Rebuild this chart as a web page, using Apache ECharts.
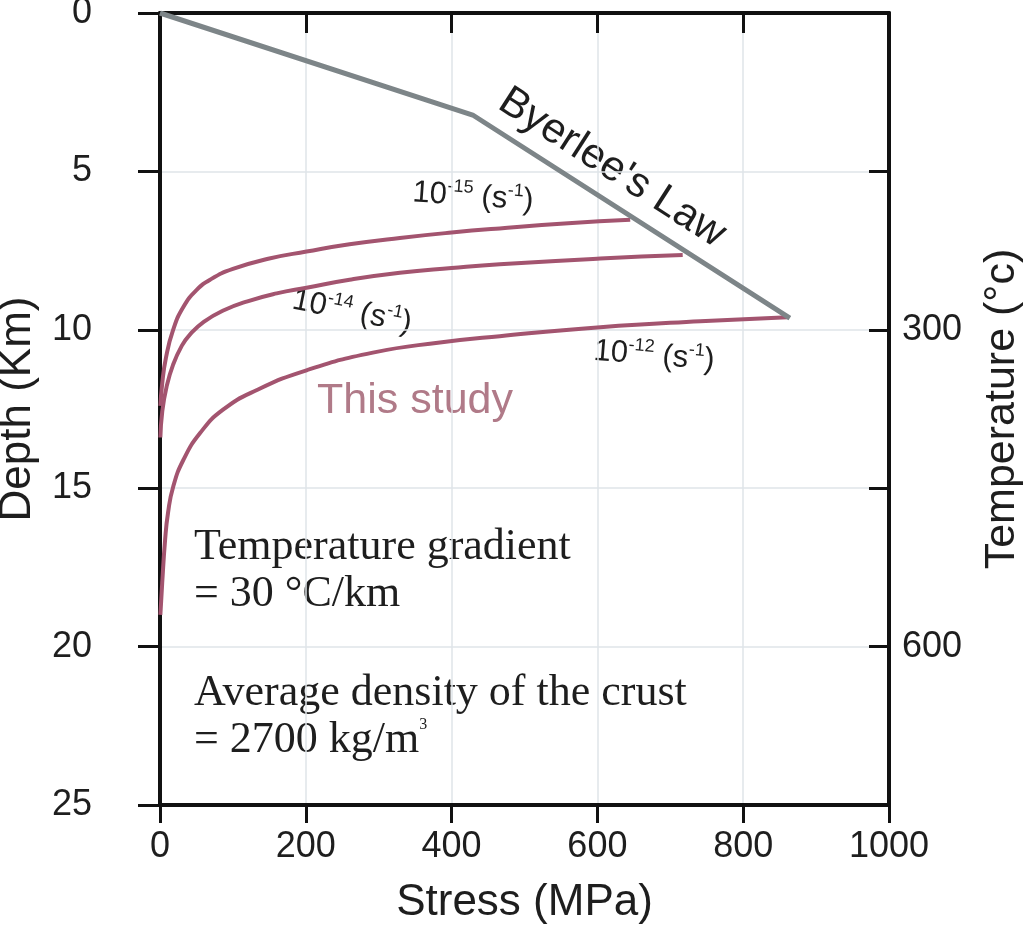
<!DOCTYPE html>
<html>
<head>
<meta charset="utf-8">
<script src="https://cdn.jsdelivr.net/npm/echarts@6/dist/echarts.min.js"></script>
<style>
  html, body { margin: 0; padding: 0; background: #fff; }
  #main { width: 1024px; height: 927px; }
</style>
</head>
<body>
<div id="main"></div>
<script>
// Byerlee's law (stress MPa, depth km)
var byerleeStress = [0, 429, 864];
var byerleeDepth = [0, 3.22, 9.63];

// strain rate 10^-15 s^-1
var rate15Stress = [0.5, 3, 8, 18, 32, 50, 70, 100, 150, 201, 260, 329, 400, 466, 560, 645];
var rate15Depth = [12.4, 11.7, 10.9, 10.0, 9.28, 8.75, 8.4, 8.08, 7.75, 7.53, 7.3, 7.1, 6.93, 6.8, 6.64, 6.53];

// strain rate 10^-14 s^-1
var rate14Stress = [0.5, 3, 9, 18, 30, 41, 60, 86, 120, 160, 201, 260, 329, 400, 466, 604, 717];
var rate14Depth = [13.4, 12.6, 11.8, 11.1, 10.5, 10.15, 9.75, 9.4, 9.1, 8.85, 8.67, 8.42, 8.2, 8.05, 7.93, 7.75, 7.64];

// strain rate 10^-12 s^-1
var rate12Stress = [0.5, 3, 7, 11, 18, 32, 55, 86, 133, 202, 292, 384, 466, 604, 741, 861];
var rate12Depth = [19.0, 18.0, 16.63, 15.78, 14.96, 14.11, 13.26, 12.53, 11.9, 11.27, 10.72, 10.4, 10.2, 9.92, 9.73, 9.6];

var stressTicks = [0, 200, 400, 600, 800, 1000];
var tempLabels = [300, 600];

function pairs(xs, ys) {
    return xs.map(function (x, i) { return [x, ys[i]]; });
}

var sans = '"Liberation Sans", Arial, sans-serif';
var serif = '"Liberation Serif", "Times New Roman", serif';
var curveColor = '#a3546f';
var ink = '#1e1e1e';
var supStyle = { fontSize: 18, fontFamily: sans, fill: ink, verticalAlign: 'top', lineHeight: 18 };
var baseStyle = { fontSize: 31, fontFamily: sans, fill: ink, lineHeight: 36 };
var serifStyle = { fontSize: 44, fontFamily: serif, fill: ink, verticalAlign: 'middle' };

const myChart = echarts.init(document.getElementById('main'));
var option = {
    animation: false,
    grid: { left: 160, right: 135, top: 13, bottom: 122, containLabel: false, outerBoundsMode: 'none' },
    xAxis: [
        {
            type: 'value', position: 'bottom', min: 0, max: 1000, interval: 200,
            name: 'Stress (MPa)', nameLocation: 'middle', nameGap: 76,
            nameTextStyle: { fontSize: 44, fontFamily: sans, color: ink },
            axisLine: { show: true, onZero: false, lineStyle: { color: '#111', width: 4 } },
            axisTick: { show: true, inside: false, length: 18, lineStyle: { color: '#111', width: 3 } },
            axisLabel: { fontSize: 36, fontFamily: sans, color: ink, margin: 24,
                formatter: function (v) { return stressTicks.indexOf(v) >= 0 ? String(v) : ''; } },
            splitLine: { show: true, lineStyle: { color: '#dfe5e8', width: 1.5 } }
        },
        {
            type: 'value', position: 'top', min: 0, max: 1000, interval: 200,
            axisLine: { show: true, onZero: false, lineStyle: { color: '#111', width: 4 } },
            axisTick: { show: true, inside: true, length: 20, lineStyle: { color: '#111', width: 3 } },
            axisLabel: { show: false },
            splitLine: { show: false }
        }
    ],
    yAxis: [
        {
            type: 'value', position: 'left', min: 0, max: 25, interval: 5, inverse: true,
            name: 'Depth (Km)', nameLocation: 'middle', nameGap: 120, nameRotate: 90,
            nameTextStyle: { fontSize: 44, fontFamily: sans, color: ink },
            axisLine: { show: true, onZero: false, lineStyle: { color: '#111', width: 4 } },
            axisTick: { show: true, inside: false, length: 22, lineStyle: { color: '#111', width: 3 } },
            axisLabel: { fontSize: 36, fontFamily: sans, color: ink, margin: 68 },
            splitLine: { show: true, lineStyle: { color: '#dfe5e8', width: 1.5 } }
        },
        {
            type: 'value', position: 'right', min: 0, max: 750, interval: 150, inverse: true,
            name: 'Temperature (°c)', nameLocation: 'middle', nameGap: 92, nameRotate: 90,
            nameTextStyle: { fontSize: 43, fontFamily: sans, color: ink },
            axisLine: { show: true, onZero: false, lineStyle: { color: '#111', width: 4 } },
            axisTick: { show: true, inside: true, length: 20, lineStyle: { color: '#111', width: 3 } },
            axisLabel: { fontSize: 36, fontFamily: sans, color: ink, margin: 13,
                formatter: function (v) { return tempLabels.indexOf(v) >= 0 ? String(v) : ''; } },
            splitLine: { show: false }
        }
    ],
    series: [
        { name: '1e-15', type: 'line', data: pairs(rate15Stress, rate15Depth), smooth: 0.5,
          showSymbol: false, lineStyle: { color: curveColor, width: 4 } },
        { name: '1e-14', type: 'line', data: pairs(rate14Stress, rate14Depth), smooth: 0.5,
          showSymbol: false, lineStyle: { color: curveColor, width: 4 } },
        { name: '1e-12', type: 'line', data: pairs(rate12Stress, rate12Depth), smooth: 0.5,
          showSymbol: false, lineStyle: { color: curveColor, width: 4 } },
        { name: 'Byerlee', type: 'line', data: pairs(byerleeStress, byerleeDepth),
          showSymbol: false, lineStyle: { color: '#7d8588', width: 5 }, z: 3 }
    ],
    graphic: [
        { type: 'text', x: 612, y: 168, rotation: -0.57,
          style: { text: "Byerlee's Law", fontSize: 42, fontFamily: sans, fill: ink, align: 'center', verticalAlign: 'middle' } },
        { type: 'text', x: 473, y: 197, rotation: -0.07,
          style: { text: '{b|10}{s|-15}{b| (s}{s|-1}{b|)}', rich: { b: baseStyle, s: supStyle }, align: 'center', verticalAlign: 'middle' } },
        { type: 'text', x: 352, y: 312, rotation: -0.2,
          style: { text: '{b|10}{s|-14}{b| (s}{s|-1}{b|)}', rich: { b: baseStyle, s: supStyle }, align: 'center', verticalAlign: 'middle' } },
        { type: 'text', x: 654, y: 356, rotation: -0.08,
          style: { text: '{b|10}{s|-12}{b| (s}{s|-1}{b|)}', rich: { b: baseStyle, s: supStyle }, align: 'center', verticalAlign: 'middle' } },
        { type: 'text', x: 415, y: 401,
          style: { text: 'This study', fontSize: 43, fontFamily: sans, fill: '#b07a88', align: 'center', verticalAlign: 'middle' } },
        { type: 'text', x: 194, y: 547,
          style: Object.assign({ text: 'Temperature gradient' }, serifStyle) },
        { type: 'text', x: 194, y: 594,
          style: Object.assign({ text: '= 30 °C/km' }, serifStyle) },
        { type: 'text', x: 194, y: 693,
          style: Object.assign({ text: 'Average density of the crust' }, serifStyle) },
        { type: 'text', x: 194, y: 740,
          style: { text: '{m|= 2700 kg/m}{s|3}',
                   rich: { m: { fontSize: 44, fontFamily: serif, fill: ink, lineHeight: 46 },
                           s: { fontSize: 16, fontFamily: serif, fill: ink, verticalAlign: 'top', lineHeight: 18 } },
                   verticalAlign: 'middle' } }
    ]
};
option && myChart.setOption(option);
</script>
</body>
</html>
